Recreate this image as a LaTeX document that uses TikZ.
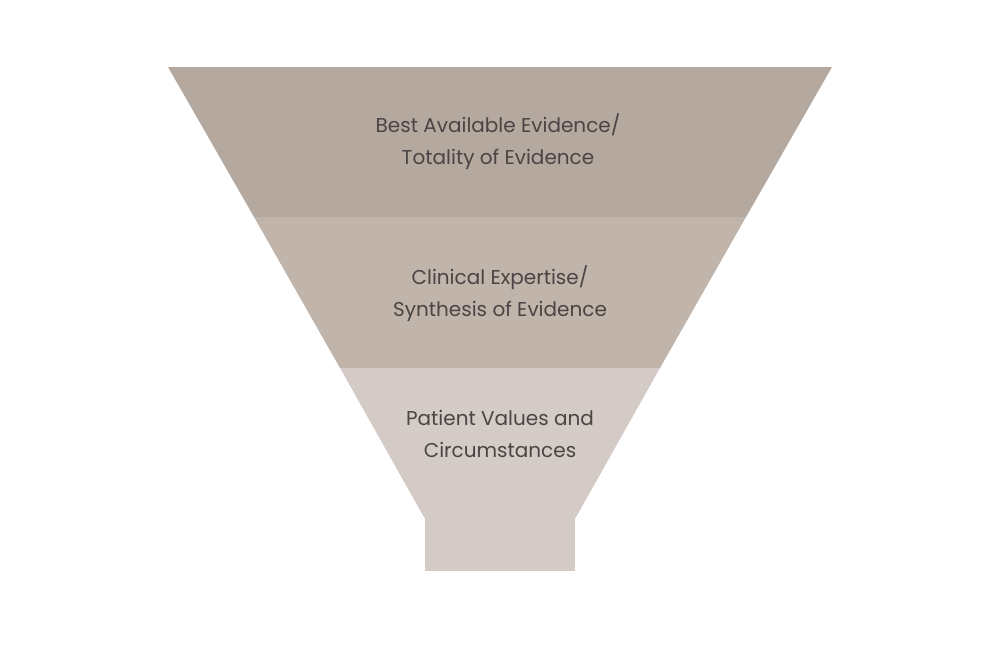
\documentclass[tikz,border=0pt]{standalone}
\usepackage{fontspec}
\setmainfont{Poppins}
\definecolor{cA}{HTML}{B5A89F}
\definecolor{cB}{HTML}{C1B4AB}
\definecolor{cC}{HTML}{D5CBC6}
\definecolor{tx}{HTML}{4A4444}
\begin{document}
\begin{tikzpicture}[x=1pt,y=-1pt,
  lbl/.style={text=tx,font=\fontsize{20}{32}\selectfont,align=center}]
\useasboundingbox (0,0) rectangle (1000,667);
\fill[cA] (168,67) -- (832,67) -- (746,217) -- (254,217) -- cycle;
\fill[cB] (254,217) -- (746,217) -- (660,368) -- (340,368) -- cycle;
\fill[cC] (340,368) -- (660,368) -- (575,519) -- (425,519) -- cycle;
\fill[cC] (425,519) rectangle (575,571);
\node[lbl] (t1) at (498,142) {Best Available Evidence/\\Totality of Evidence};
\node[lbl] (t2) at (500,294) {Clinical Expertise/\\Synthesis of Evidence};
\node[lbl] (t3) at (500,434) {Patient Values and\\Circumstances};
\end{tikzpicture}
\end{document}
